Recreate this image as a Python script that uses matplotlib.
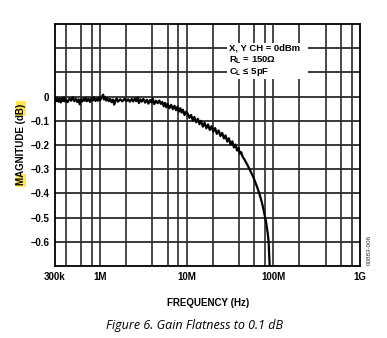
import matplotlib
matplotlib.use("Agg")
import matplotlib.pyplot as plt
from matplotlib.patches import Rectangle
import numpy as np

plt.rcParams['font.family'] = ['Liberation Sans', 'DejaVu Sans']
plt.rcParams['mathtext.fontset'] = 'custom'
plt.rcParams['mathtext.rm'] = 'Liberation Sans:bold'
plt.rcParams['mathtext.bf'] = 'Liberation Sans:bold'
plt.rcParams['mathtext.it'] = 'Liberation Sans:bold'

# Frequency (MHz) and magnitude (dB)
freq_mhz = [0.30, 0.31, 0.32, 0.33, 0.34, 0.35, 0.36, 0.37, 0.38, 0.39, 0.40, 0.42, 0.44, 0.46, 0.48,
            0.50, 0.52, 0.54, 0.56, 0.58, 0.60, 0.62, 0.64, 0.66, 0.68, 0.70, 0.73, 0.76, 0.79, 0.82,
            0.85, 0.88, 0.91, 0.94, 0.97, 1.00, 1.04, 1.08, 1.10, 1.13, 1.17, 1.21, 1.25, 1.30, 1.35,
            1.40, 1.45, 1.50, 1.55, 1.60, 1.70, 1.80, 1.90, 2.00, 2.10, 2.20, 2.30, 2.40, 2.50, 2.60,
            2.70, 2.80, 2.90, 3.00, 3.15, 3.30, 3.45, 3.60, 3.75, 3.90, 4.05, 4.20, 4.40, 4.60, 4.80,
            5.00, 5.20, 5.40, 5.60, 5.80, 6.00, 6.30, 6.60, 6.90, 7.20, 7.50, 7.80, 8.10, 8.40, 8.70,
            9.00, 9.40, 9.80, 10.2, 10.7, 11.2, 11.7, 12.2, 12.8, 13.4, 14.0, 14.6, 15.3, 16.0, 16.8,
            17.6, 18.4, 19.3, 20.2, 21.2, 22.2, 23.3, 24.4, 25.6, 26.8, 28.0, 29.3, 30.6, 32.0, 33.5,
            35.0, 36.5, 38.0, 39.5, 41.0, 42.5, 44.0, 46.0, 48.0, 50.0, 53.0, 56.0, 59.0, 62.0, 65.0,
            68.0, 70.0, 72.0, 75.0, 78.0, 80.0, 82.0, 84.0, 86.0, 87.5, 88.5, 89.5, 90.5, 91.5]
mag_db = [-0.008, -0.019, -0.006, -0.021, -0.010, -0.024, -0.007, -0.018, -0.004, -0.020, -0.012, -0.023, -0.008, -0.017, -0.003,
          -0.019, -0.009, -0.022, -0.011, -0.032, -0.010, -0.020, -0.008, -0.017, -0.005, -0.019, -0.009, -0.022, -0.006, -0.016,
          -0.003, -0.018, -0.008, -0.017, -0.004, -0.014, -0.002, 0.008, -0.012, -0.001, -0.016, -0.007, -0.019, -0.010, -0.023,
          -0.012, -0.033, -0.014, -0.008, -0.021, -0.011, -0.020, -0.009, -0.019, -0.011, -0.021, -0.010, -0.020, -0.008, -0.019,
          -0.004, -0.027, -0.011, -0.021, -0.010, -0.025, -0.013, -0.029, -0.014, -0.024, -0.009, -0.031, -0.017, -0.027, -0.016,
          -0.030, -0.022, -0.040, -0.026, -0.044, -0.030, -0.048, -0.034, -0.052, -0.038, -0.056, -0.042, -0.062, -0.048, -0.066,
          -0.054, -0.076, -0.062, -0.070, -0.088, -0.076, -0.098, -0.084, -0.106, -0.092, -0.114, -0.100, -0.124, -0.108, -0.131,
          -0.115, -0.138, -0.122, -0.145, -0.130, -0.154, -0.140, -0.163, -0.150, -0.173, -0.160, -0.186, -0.172, -0.198, -0.185,
          -0.210, -0.198, -0.223, -0.212, -0.236, -0.230, -0.248, -0.258, -0.270, -0.282, -0.300, -0.318, -0.335, -0.355, -0.375,
          -0.395, -0.410, -0.425, -0.450, -0.478, -0.495, -0.515, -0.540, -0.565, -0.590, -0.620, -0.660, -0.700, -0.740]

xtick_vals = [3e5, 1e6, 1e7, 1e8, 1e9]
xtick_labels = ['300k', '1M', '10M', '100M', '1G']
ytick_vals = [0, -0.1, -0.2, -0.3, -0.4, -0.5, -0.6]
ytick_labels = ['0', '–0.1', '–0.2', '–0.3', '–0.4', '–0.5', '–0.6']
note_lines = ['X, Y CH = 0dBm', r'R$_{\mathrm{L}}$ = 150Ω', r'C$_{\mathrm{L}}$ ≤ 5pF']

W, H = 387, 338
fig = plt.figure(figsize=(W / 100, H / 100), dpi=100)
L, R, T, B = 55, 360, 24, 266
ax = fig.add_axes([L / W, (H - B) / H, (R - L) / W, (B - T) / H])
ax.set_xscale('log')
ax.set_xlim(3e5, 1e9)
ax.set_ylim(-0.7, 0.3)

# grid
for dec in [1e5, 1e6, 1e7, 1e8]:
    for m in [1, 2, 4, 6, 8]:
        f = dec * m
        if 3e5 < f < 1e9:
            ax.axvline(f, color='#3a3a3a', lw=1.3, zorder=1)
for yv in np.arange(-0.6, 0.3, 0.1):
    ax.axhline(yv, color='#2a2a2a', lw=1.3, zorder=1)

ax.add_patch(Rectangle((0.564, 0.774), 0.265, 0.148, transform=ax.transAxes,
                       facecolor='white', edgecolor='none', zorder=2))
for i, s in enumerate(note_lines):
    ax.text(0.572, 0.900 - i * 0.0496, s, transform=ax.transAxes, fontsize=6.8,
            fontweight='bold', va='center', ha='left', zorder=3)

f_hz = np.array(freq_mhz) * 1e6
ax.plot(f_hz, mag_db, color='black', lw=1.6, zorder=4, clip_on=True)

ax.set_xticks(xtick_vals)
ax.set_xticklabels(xtick_labels, fontsize=7, fontweight='bold')
ax.xaxis.set_minor_locator(matplotlib.ticker.NullLocator())
ax.set_yticks(ytick_vals)
ax.set_yticklabels(ytick_labels, fontsize=7, fontweight='bold')
ax.tick_params(length=0, pad=4)
for sp in ax.spines.values():
    sp.set_linewidth(1.3)
    sp.set_zorder(5)

# y label highlights
fig.patches.append(Rectangle((16 / W, (H - 116) / H), 9.5 / W, 15 / H, transform=fig.transFigure,
                             facecolor='#ffe94d', edgecolor='none', zorder=0))
fig.patches.append(Rectangle((16 / W, (H - 187) / H), 9.5 / W, 13 / H, transform=fig.transFigure,
                             facecolor='#ffe94d', edgecolor='none', zorder=0))
fig.text(20.8 / W, (H - 144) / H, 'MAGNITUDE (dB)', rotation=90, fontsize=7, fontweight='bold',
         ha='center', va='center')
fig.text(208 / W, (H - 303) / H, 'FREQUENCY (Hz)', fontsize=7, fontweight='bold',
         ha='center', va='center')
fig.text(369 / W, (H - 250) / H, '00883-006', rotation=90, fontsize=4.5, color='#333333',
         ha='center', va='center')
fig.text(195 / W, (H - 326) / H, 'Figure 6. Gain Flatness to 0.1 dB', fontsize=9, style='italic',
         family=['Open Sans', 'DejaVu Sans'], ha='center', va='center')

fig.savefig('out.png', dpi=100)
